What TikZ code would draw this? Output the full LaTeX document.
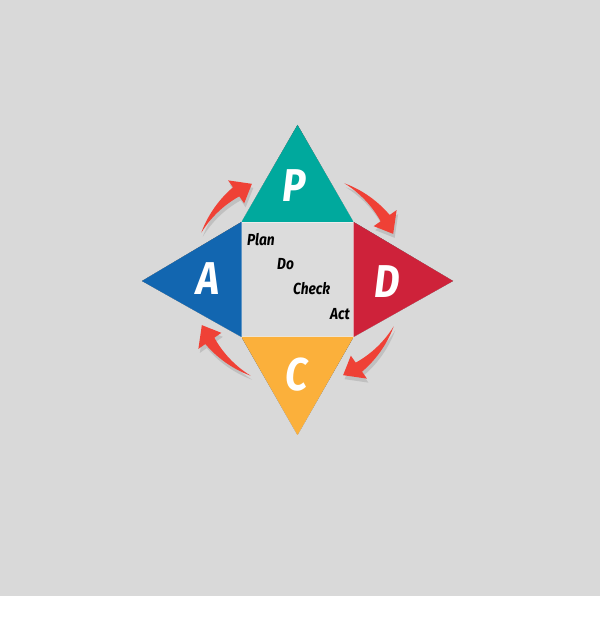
\documentclass[tikz,border=0pt]{standalone}
\usepackage{fontspec}
\setmainfont{Fira Sans}
\newfontfamily\lblfont[FakeStretch=0.86]{Fira Sans}
\definecolor{bg}{RGB}{217,217,217}
\definecolor{sq}{RGB}{220,220,220}
\definecolor{sqedge}{RGB}{236,236,236}
\definecolor{shade}{RGB}{188,188,188}
\definecolor{ashade}{RGB}{192,192,192}
\definecolor{teal}{RGB}{0,169,157}
\definecolor{dred}{RGB}{206,34,58}
\definecolor{amber}{RGB}{251,176,59}
\definecolor{dblue}{RGB}{18,102,176}
\definecolor{arrred}{RGB}{239,65,54}
\newcommand\cyclearrow[2]{%
  % #1 = quadrant offset angle, #2 = fill colour
  \fill[#2] plot[domain={#1+64}:{#1+35},samples=30] (\x:{107+5.5*(#1+64-\x)/29})
    -- ({#1+35}:121) -- ({#1+25.5}:106) -- ({#1+35}:93)
    -- plot[domain={#1+35}:{#1+64},samples=30] (\x:{107-5.5*(#1+64-\x)/29}) -- cycle;}
\tikzset{
  bigletter/.style={text=white,font=\lblfont\fontsize{46}{46}\selectfont\bfseries\itshape,inner sep=0pt},
  steplabel/.style={text=black,font=\lblfont\fontsize{16}{16}\selectfont\bfseries\itshape,inner sep=0pt,anchor=base west},
}
\begin{document}
\begin{tikzpicture}[x=1pt,y=1pt]
\useasboundingbox (0,0) rectangle (600,618);
\fill[bg] (0,22) rectangle (600,618);
\fill[white] (0,0) rectangle (600,22);

\coordinate (O) at (297.5,338.5);
\coordinate (tl) at (241.5,396);
\coordinate (tr) at (353.5,396);
\coordinate (br) at (353.5,281);
\coordinate (bl) at (241.5,281);
\coordinate (pa) at (297.5,493);
\coordinate (da) at (453,337);
\coordinate (ca) at (297.5,183);
\coordinate (aa) at (142,337);

% arrows with shadows
\begin{scope}[shift={(O)}]
  \begin{scope}[shift={(1.5,-4)}]
    \foreach \q in {90,0,-90,-180} {\cyclearrow{\q}{ashade}}
  \end{scope}
  \foreach \q in {90,0,-90,-180} {\cyclearrow{\q}{arrred}}
\end{scope}

% triangle shadows
\begin{scope}[shift={(3,-3)}]
  \fill[shade] (tl) -- (pa) -- (tr) -- cycle;
  \fill[shade] (tr) -- (da) -- (br) -- cycle;
  \fill[shade] (br) -- (ca) -- (bl) -- cycle;
  \fill[shade] (bl) -- (aa) -- (tl) -- cycle;
\end{scope}

% central square
\fill[sq] (tl) rectangle (br);
\draw[sqedge,line width=1.5] (tl) rectangle (br);

% triangles
\fill[teal] (tl) -- (pa) -- (tr) -- cycle;
\fill[dred] (tr) -- (da) -- (br) -- cycle;
\fill[amber] (br) -- (ca) -- (bl) -- cycle;
\fill[dblue] (bl) -- (aa) -- (tl) -- cycle;

% letters
\node[bigletter] (P) at (294,432) {P};
\node[bigletter] (D) at (387,336) {D};
\node[bigletter] (C) at (297,243) {C};
\node[bigletter] (A) at (208,339) {A};

% step labels
\node[steplabel] (plan) at (247,372) {Plan};
\node[steplabel] (do) at (277,348) {Do};
\node[steplabel] (check) at (293,323) {Check};
\node[steplabel] (act) at (330,298) {Act};
\end{tikzpicture}
\end{document}
